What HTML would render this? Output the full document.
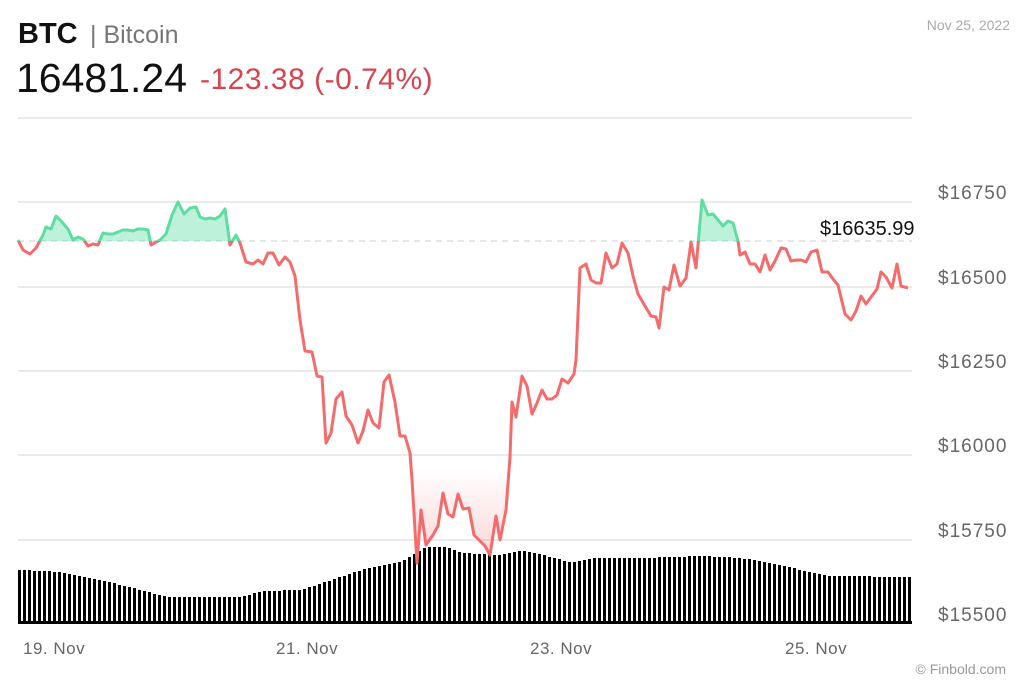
<!DOCTYPE html>
<html><head><meta charset="utf-8"><style>
body{margin:0;background:#fff;width:1024px;height:683px;overflow:hidden;font-family:"Liberation Sans",sans-serif}
svg{position:absolute;left:0;top:0}
</style></head><body>
<svg width="1024" height="683" viewBox="0 0 1024 683" xmlns="http://www.w3.org/2000/svg">
<defs>
<clipPath id="above"><rect x="0" y="0" width="1024" height="241"/></clipPath>
<clipPath id="below"><rect x="0" y="241" width="1024" height="450"/></clipPath>
<linearGradient id="rg" x1="0" y1="470" x2="0" y2="565" gradientUnits="userSpaceOnUse">
<stop offset="0" stop-color="#f56b6b" stop-opacity="0"/><stop offset="1" stop-color="#f56b6b" stop-opacity="0.3"/></linearGradient>
</defs>
<text x="18" y="43" font-size="29" font-weight="bold" fill="#111">BTC</text>
<text x="90" y="43" font-size="25" fill="#777">| Bitcoin</text>
<text x="16" y="92" font-size="41" fill="#111">16481.24</text>
<text x="200" y="89" font-size="30" fill="#d9434e" letter-spacing="0.5">-123.38 (-0.74%)</text>
<text x="1010" y="30" font-size="14" fill="#aaa" text-anchor="end">Nov 25, 2022</text>
<g stroke="#e3e3e3" stroke-width="1.5">
<line x1="18" y1="118" x2="912" y2="118"/><line x1="18" y1="202" x2="912" y2="202"/>
<line x1="18" y1="287" x2="912" y2="287"/><line x1="18" y1="371" x2="912" y2="371"/>
<line x1="18" y1="455" x2="912" y2="455"/><line x1="18" y1="540" x2="912" y2="540"/>
</g>
<line x1="18" y1="241" x2="912" y2="241" stroke="#ddd" stroke-width="1.5" stroke-dasharray="6,5"/>
<g font-size="19" fill="#666" letter-spacing="1">
<text x="938" y="199">$16750</text><text x="938" y="284">$16500</text><text x="938" y="368">$16250</text>
<text x="938" y="452">$16000</text><text x="938" y="537">$15750</text><text x="938" y="621">$15500</text>
</g>
<text x="820" y="235" font-size="20" fill="#111">$16635.99</text>
<g id="vol" fill="#000"></g>
<rect x="18" y="621" width="894" height="3" fill="#000"/>
<polygon id="gfill" clip-path="url(#above)" fill="#5ddda0" fill-opacity="0.4"/>
<polygon id="rfill" clip-path="url(#below)" fill="url(#rg)"/>
<polyline id="rline" clip-path="url(#below)" fill="none" stroke="#f56b6b" stroke-width="3" stroke-linejoin="round"/>
<polyline id="gline" clip-path="url(#above)" fill="none" stroke="#5ddda0" stroke-width="3" stroke-linejoin="round"/>
<g font-size="17" fill="#666" letter-spacing="0.5">
<text x="23" y="654">19. Nov</text><text x="276" y="654">21. Nov</text>
<text x="530" y="654">23. Nov</text><text x="785" y="654">25. Nov</text>
</g>
<text x="1006" y="674" font-size="14" fill="#999" text-anchor="end">© Finbold.com</text>
</svg>
<script>
var p=[[18,240],[23,250],[30,254],[36,248],[43,235],[46,227],[51,229],[56,216],[62,222],[68,229],[73,240],[78,237],[83,239],[88,246],[93,244],[98,245],[103,233],[108,234],[113,234],[118,232],[123,230],[128,230],[133,231],[138,229],[143,229],[148,230],[151,245],[156,242],[160,240],[166,234],[172,215],[178,202],[184,214],[190,208],[196,207],[200,217],[205,219],[210,218],[215,219],[220,216],[225,209],[230,245],[236,235],[240,243],[246,262],[253,264],[258,260],[263,264],[268,253],[273,253],[279,265],[285,257],[290,262],[295,276],[300,320],[305,351],[312,352],[317,376],[322,377],[326,443],[331,433],[336,399],[342,392],[346,416],[352,425],[358,443],[363,431],[368,410],[373,423],[379,428],[384,382],[389,375],[395,402],[400,436],[405,436],[410,453],[412,480],[417,563],[421,510],[426,545],[433,535],[438,526],[443,493],[448,514],[453,517],[458,494],[463,509],[469,508],[474,535],[479,540],[485,546],[490,555],[496,516],[500,540],[506,510],[510,457],[512,402],[516,417],[522,376],[527,386],[532,414],[537,403],[542,390],[547,399],[552,399],[557,395],[562,379],[568,383],[574,374],[576,360],[580,268],[586,264],[591,280],[596,283],[601,283],[606,253],[612,268],[617,264],[622,243],[628,253],[633,276],[638,294],[645,306],[651,316],[656,317],[659,328],[664,287],[669,290],[674,265],[680,286],[686,278],[691,242],[696,268],[702,200],[708,215],[713,214],[718,220],[723,226],[728,221],[733,223],[738,241],[740,255],[745,252],[750,264],[755,264],[760,272],[765,255],[770,270],[775,261],[781,248],[786,249],[791,261],[796,260],[801,260],[806,262],[811,252],[817,250],[822,272],[828,272],[833,279],[838,285],[845,314],[851,320],[856,311],[861,296],[866,304],[871,297],[877,289],[881,272],[886,277],[892,288],[897,264],[901,286],[908,288]];
var s=p.map(function(a){return a.join(',')}).join(' ');
['rline','gline'].forEach(function(id){document.getElementById(id).setAttribute('points',s)});
var f=s+' 908,241 18,241';
document.getElementById('gfill').setAttribute('points',f);
document.getElementById('rfill').setAttribute('points',f);
var v=[[18,570],[60,572],[100,580],[140,590],[165,597],[240,597],[260,591],[300,590],[330,580],[360,570],[400,562],[425,547],[445,547],[460,553],[500,555],[520,550],[550,557],[570,563],[590,558],[640,558],[700,556],[740,558],[770,563],[800,570],[830,576],[912,577]];
function h(x){for(var i=0;i<v.length-1;i++){if(x>=v[i][0]&&x<=v[i+1][0]){var t=(x-v[i][0])/(v[i+1][0]-v[i][0]);return v[i][1]+t*(v[i+1][1]-v[i][1]);}}return 577;}
var g=document.getElementById('vol'),out='';
for(var x=18;x<910;x+=5){var y=Math.round(h(x));out+='<rect x="'+x+'" y="'+y+'" width="3" height="'+(622-y)+'"/>';}
g.innerHTML=out;
</script>
</body></html>
